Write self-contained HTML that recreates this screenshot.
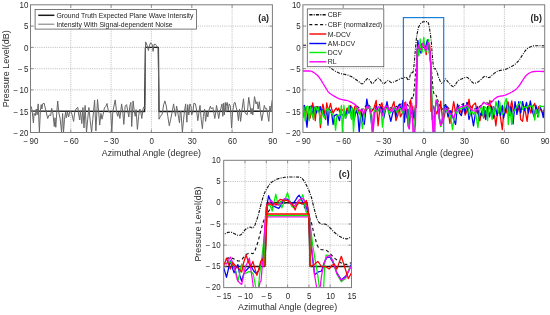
<!DOCTYPE html>
<html><head><meta charset="utf-8"><title>Figure</title>
<style>html,body{margin:0;padding:0;background:#fff}svg{display:block}</style></head>
<body>
<svg width="550" height="315" viewBox="0 0 550 315" font-family="'Liberation Sans', Arial, sans-serif">
<rect width="550" height="315" fill="#fff"/>
<defs>
<clipPath id="clipA"><rect x="30.5" y="4.8" width="241.9" height="127.7"/></clipPath>
<clipPath id="clipB"><rect x="302.9" y="4.8" width="241.8" height="127.7"/></clipPath>
<clipPath id="clipC"><rect x="223.7" y="160.3" width="127.8" height="127.3"/></clipPath>
</defs>
<g id="plotA">
<line x1="70.8" y1="4.8" x2="70.8" y2="132.5" stroke="#b2b2b2" stroke-width="0.8" stroke-dasharray="1.1 1.1"/>
<line x1="111.1" y1="4.8" x2="111.1" y2="132.5" stroke="#b2b2b2" stroke-width="0.8" stroke-dasharray="1.1 1.1"/>
<line x1="151.4" y1="4.8" x2="151.4" y2="132.5" stroke="#b2b2b2" stroke-width="0.8" stroke-dasharray="1.1 1.1"/>
<line x1="191.8" y1="4.8" x2="191.8" y2="132.5" stroke="#b2b2b2" stroke-width="0.8" stroke-dasharray="1.1 1.1"/>
<line x1="232.1" y1="4.8" x2="232.1" y2="132.5" stroke="#b2b2b2" stroke-width="0.8" stroke-dasharray="1.1 1.1"/>
<line x1="30.5" y1="26.1" x2="272.4" y2="26.1" stroke="#b2b2b2" stroke-width="0.8" stroke-dasharray="1.1 1.1"/>
<line x1="30.5" y1="47.4" x2="272.4" y2="47.4" stroke="#b2b2b2" stroke-width="0.8" stroke-dasharray="1.1 1.1"/>
<line x1="30.5" y1="68.7" x2="272.4" y2="68.7" stroke="#b2b2b2" stroke-width="0.8" stroke-dasharray="1.1 1.1"/>
<line x1="30.5" y1="89.9" x2="272.4" y2="89.9" stroke="#b2b2b2" stroke-width="0.8" stroke-dasharray="1.1 1.1"/>
<line x1="30.5" y1="111.2" x2="272.4" y2="111.2" stroke="#b2b2b2" stroke-width="0.8" stroke-dasharray="1.1 1.1"/>
<g clip-path="url(#clipA)">
<polyline points="30.5,111.2 144.6,111.5 145.4,47.4 158.4,47.4 159.0,111.5 272.4,111.2" fill="none" stroke="#1a1a1a" stroke-width="1.3" stroke-linejoin="round" />
<polyline points="31.2,106.4 32.1,110.5 33.4,122.9 34.1,113.4 35.3,115.6 36.3,109.0 37.1,114.9 38.2,103.9 39.4,132.4 40.4,110.5 41.2,104.6 41.9,109.0 42.6,103.9 44.1,103.2 45.5,109.0 47.7,118.5 49.2,114.9 50.7,115.6 51.7,108.3 52.9,113.4 54.3,126.5 55.0,117.8 55.8,127.3 56.8,111.9 57.7,101.0 58.7,111.9 60.2,119.2 61.6,132.4 62.6,113.4 63.5,132.4 64.5,119.2 65.7,111.9 66.3,117.8 67.5,111.9 68.6,117.0 69.7,111.9 70.7,111.2 71.9,114.1 73.6,121.4 74.8,111.9 76.0,109.0 77.8,107.3 78.6,114.1 79.7,120.0 80.4,110.5 81.8,123.6 82.9,107.5 84.0,128.0 85.1,105.4 86.5,132.4 87.7,119.2 88.9,107.5 90.2,120.7 91.6,132.4 92.8,119.2 94.6,100.2 95.9,130.9 97.5,99.5 98.7,111.9 99.7,125.1 100.9,113.4 102.0,119.2 103.0,114.9 104.5,107.5 105.7,106.8 107.0,103.5 108.5,111.9 109.9,111.9 110.8,113.4 111.8,132.4 112.8,111.9 115.2,99.9 116.6,111.9 117.7,116.3 118.7,111.9 119.9,118.5 121.6,103.9 122.8,111.9 123.8,124.4 125.2,106.1 126.6,104.6 127.9,111.9 128.8,117.0 129.8,106.1 130.9,102.4 131.7,126.5 133.1,100.9 134.2,110.4 135.2,116.3 136.1,109.7 137.4,129.4 138.6,116.3 139.8,109.0 140.8,111.9 141.8,118.5 143.0,109.0 144.0,106.8 144.9,109.0 145.3,90.0 145.5,47.1 145.7,41.9 147.0,45.2 148.4,50.5 149.6,45.2 150.6,42.9 152.2,44.3 153.1,51.4 154.1,44.3 155.5,44.3 156.5,45.7 157.9,47.6 158.2,49.0 158.7,90.0 159.0,119.2 160.5,116.3 162.2,114.1 163.7,104.6 164.9,100.9 166.3,106.1 167.8,116.3 169.3,125.8 170.7,119.2 172.2,111.9 173.6,103.9 174.8,111.9 175.5,116.3 176.6,106.1 177.7,111.9 178.7,118.5 179.5,122.8 180.2,111.9 180.9,111.2 182.4,132.3 183.6,119.2 184.4,111.9 185.6,103.9 186.9,122.2 187.7,104.6 188.8,114.9 189.9,103.9 191.0,106.1 191.7,114.9 192.9,111.9 193.9,103.2 195.4,103.9 196.4,109.0 197.8,120.7 199.0,111.9 200.0,105.4 201.2,119.2 202.4,128.7 203.4,116.3 204.6,109.0 205.6,121.4 206.8,111.9 207.8,117.0 208.9,110.5 210.4,106.1 211.4,109.0 212.9,107.5 213.9,113.4 214.8,118.5 215.8,111.9 216.5,105.4 217.7,111.9 218.7,118.5 219.8,111.9 220.9,108.3 222.0,103.9 222.8,116.3 223.6,103.2 224.3,114.9 225.3,102.4 225.9,111.9 226.0,106.1 227.2,102.4 228.2,110.5 229.2,103.9 230.4,106.1 231.6,128.0 232.6,111.9 234.0,103.2 235.1,102.4 236.2,107.5 237.4,111.9 238.4,120.7 239.5,109.0 240.6,121.4 242.1,109.0 243.5,98.8 244.7,111.9 246.2,114.1 247.2,114.9 248.7,97.3 250.1,106.1 251.1,114.1 252.0,108.3 252.8,114.9 254.5,96.6 256.0,103.9 257.0,101.7 258.2,109.0 259.3,101.7 260.4,111.9 261.8,120.7 263.3,111.9 264.3,105.4 265.5,109.0 266.6,108.3 267.7,114.9 268.8,121.4 269.9,106.1 270.9,111.9 272.1,100.2" fill="none" stroke="#666666" stroke-width="1.0" stroke-linejoin="round" />
</g>
<rect x="30.5" y="4.8" width="241.9" height="127.7" fill="none" stroke="#7c7c7c" stroke-width="1"/>
<text transform="translate(30.9 143.7) scale(0.95 1)" text-anchor="middle" font-size="8.4" fill="#2a2a2a">−<tspan dx="1.4">90</tspan></text>
<path d="M70.8 132.5v-3M70.8 4.8v3" stroke="#7c7c7c" stroke-width="0.8"/>
<text transform="translate(71.2 143.7) scale(0.95 1)" text-anchor="middle" font-size="8.4" fill="#2a2a2a">−<tspan dx="1.4">60</tspan></text>
<path d="M111.1 132.5v-3M111.1 4.8v3" stroke="#7c7c7c" stroke-width="0.8"/>
<text transform="translate(111.5 143.7) scale(0.95 1)" text-anchor="middle" font-size="8.4" fill="#2a2a2a">−<tspan dx="1.4">30</tspan></text>
<path d="M151.4 132.5v-3M151.4 4.8v3" stroke="#7c7c7c" stroke-width="0.8"/>
<text transform="translate(151.8 143.7) scale(0.95 1)" text-anchor="middle" font-size="8.4" fill="#2a2a2a">0</text>
<path d="M191.8 132.5v-3M191.8 4.8v3" stroke="#7c7c7c" stroke-width="0.8"/>
<text transform="translate(192.2 143.7) scale(0.95 1)" text-anchor="middle" font-size="8.4" fill="#2a2a2a">30</text>
<path d="M232.1 132.5v-3M232.1 4.8v3" stroke="#7c7c7c" stroke-width="0.8"/>
<text transform="translate(232.5 143.7) scale(0.95 1)" text-anchor="middle" font-size="8.4" fill="#2a2a2a">60</text>
<text transform="translate(272.8 143.7) scale(0.95 1)" text-anchor="middle" font-size="8.4" fill="#2a2a2a">90</text>
<text transform="translate(28.4 8.1) scale(0.95 1)" text-anchor="end" font-size="8.4" fill="#2a2a2a">10</text>
<path d="M30.5 26.1h3M272.4 26.1h-3" stroke="#7c7c7c" stroke-width="0.8"/>
<text transform="translate(28.4 29.4) scale(0.95 1)" text-anchor="end" font-size="8.4" fill="#2a2a2a">5</text>
<path d="M30.5 47.4h3M272.4 47.4h-3" stroke="#7c7c7c" stroke-width="0.8"/>
<text transform="translate(28.4 50.7) scale(0.95 1)" text-anchor="end" font-size="8.4" fill="#2a2a2a">0</text>
<path d="M30.5 68.7h3M272.4 68.7h-3" stroke="#7c7c7c" stroke-width="0.8"/>
<text transform="translate(28.4 72.0) scale(0.95 1)" text-anchor="end" font-size="8.4" fill="#2a2a2a">−<tspan dx="1.4">5</tspan></text>
<path d="M30.5 89.9h3M272.4 89.9h-3" stroke="#7c7c7c" stroke-width="0.8"/>
<text transform="translate(28.4 93.2) scale(0.95 1)" text-anchor="end" font-size="8.4" fill="#2a2a2a">−<tspan dx="1.4">10</tspan></text>
<path d="M30.5 111.2h3M272.4 111.2h-3" stroke="#7c7c7c" stroke-width="0.8"/>
<text transform="translate(28.4 114.5) scale(0.95 1)" text-anchor="end" font-size="8.4" fill="#2a2a2a">−<tspan dx="1.4">15</tspan></text>
<text transform="translate(28.4 135.8) scale(0.95 1)" text-anchor="end" font-size="8.4" fill="#2a2a2a">−<tspan dx="1.4">20</tspan></text>
<text x="151.4" y="155.7" text-anchor="middle" font-size="8.8" textLength="99.2" lengthAdjust="spacingAndGlyphs" fill="#2a2a2a">Azimuthal Angle (degree)</text>
<text transform="translate(8.8 68.7) rotate(-90)" text-anchor="middle" font-size="8.9" textLength="77" lengthAdjust="spacingAndGlyphs" fill="#2a2a2a">Pressure Level(dB)</text>
<rect x="35.1" y="9.5" width="161.3" height="19.6" fill="#fff" stroke="#5a5a5a" stroke-width="0.8"/>
<line x1="38.2" y1="15.3" x2="54.4" y2="15.3" stroke="#1a1a1a" stroke-width="1.5"/>
<line x1="38.2" y1="24.2" x2="54.4" y2="24.2" stroke="#6f6f6f" stroke-width="0.95"/>
<text x="56.4" y="17.8" font-size="6.87" fill="#222">Ground Truth Expected Plane Wave Intensity</text>
<text x="56.4" y="26.6" font-size="6.87" fill="#222">Intensity With Signal-dependent Noise</text>
<text x="258.2" y="21.3" font-size="8.85" font-weight="bold" fill="#222">(a)</text>
</g>
<g id="plotB">
<line x1="343.2" y1="4.8" x2="343.2" y2="132.5" stroke="#b2b2b2" stroke-width="0.8" stroke-dasharray="1.1 1.1"/>
<line x1="383.5" y1="4.8" x2="383.5" y2="132.5" stroke="#b2b2b2" stroke-width="0.8" stroke-dasharray="1.1 1.1"/>
<line x1="423.8" y1="4.8" x2="423.8" y2="132.5" stroke="#b2b2b2" stroke-width="0.8" stroke-dasharray="1.1 1.1"/>
<line x1="464.1" y1="4.8" x2="464.1" y2="132.5" stroke="#b2b2b2" stroke-width="0.8" stroke-dasharray="1.1 1.1"/>
<line x1="504.4" y1="4.8" x2="504.4" y2="132.5" stroke="#b2b2b2" stroke-width="0.8" stroke-dasharray="1.1 1.1"/>
<line x1="302.9" y1="26.1" x2="544.7" y2="26.1" stroke="#b2b2b2" stroke-width="0.8" stroke-dasharray="1.1 1.1"/>
<line x1="302.9" y1="47.4" x2="544.7" y2="47.4" stroke="#b2b2b2" stroke-width="0.8" stroke-dasharray="1.1 1.1"/>
<line x1="302.9" y1="68.7" x2="544.7" y2="68.7" stroke="#b2b2b2" stroke-width="0.8" stroke-dasharray="1.1 1.1"/>
<line x1="302.9" y1="89.9" x2="544.7" y2="89.9" stroke="#b2b2b2" stroke-width="0.8" stroke-dasharray="1.1 1.1"/>
<line x1="302.9" y1="111.2" x2="544.7" y2="111.2" stroke="#b2b2b2" stroke-width="0.8" stroke-dasharray="1.1 1.1"/>
<g clip-path="url(#clipB)">
<polyline points="302.9,45.3 304.2,45.3 306.1,45.3 308.1,45.3 309.6,45.3 310.6,45.4 311.2,45.5 311.7,45.6 312.3,45.9 313.1,46.4 314.0,47.0 314.9,47.6 315.7,48.2 316.4,48.8 317.0,49.3 317.6,49.8 318.3,50.6 319.2,51.6 320.0,52.9 320.9,54.2 321.7,55.5 322.4,56.6 323.1,57.8 323.8,58.9 324.4,60.0 325.0,60.9 325.6,61.8 326.1,62.7 326.7,63.5 327.1,64.3 327.4,65.0 327.8,65.7 328.6,66.5 329.7,67.4 331.1,68.4 332.6,69.4 334.1,70.4 335.5,71.2 336.9,71.9 338.2,72.6 339.4,73.2 340.5,73.5 341.3,73.7 342.2,73.9 343.2,74.1 344.4,74.3 345.8,74.6 347.2,74.9 348.6,75.3 349.9,75.9 351.3,76.6 352.7,77.4 354.1,78.2 355.5,79.2 356.9,80.3 358.3,81.4 359.5,82.3 360.3,82.9 361.0,83.4 361.6,83.7 362.3,83.7 363.0,83.4 363.6,82.8 364.3,82.0 365.0,81.3 365.6,80.6 366.3,79.7 367.0,78.9 367.6,78.6 368.4,78.9 369.1,79.7 369.8,80.6 370.5,81.3 371.0,82.1 371.5,82.9 372.0,83.5 372.6,83.7 373.4,83.1 374.2,82.1 375.0,81.0 375.8,80.1 376.6,79.4 377.3,78.7 378.0,78.3 378.7,78.2 379.4,78.7 380.0,79.5 380.7,80.5 381.4,81.3 381.9,82.1 382.4,82.8 382.9,83.4 383.5,83.7 384.3,83.4 385.2,82.7 386.1,81.9 386.9,81.3 387.4,80.9 387.8,80.6 388.1,80.4 388.6,80.4 389.2,80.8 389.9,81.6 390.6,82.2 391.4,82.6 392.3,82.5 393.2,82.2 394.2,81.7 395.1,81.3 395.8,81.0 396.4,80.7 397.0,80.4 397.7,80.1 398.6,79.6 399.6,79.0 400.5,78.5 401.4,78.2 402.1,78.3 402.7,78.5 403.2,78.8 403.6,78.9 404.1,78.6 404.4,78.1 404.7,77.5 405.0,77.2 405.3,77.0 405.6,77.0 405.9,77.0 406.2,77.2 406.5,77.5 406.8,77.9 407.1,78.4 407.3,78.9 407.6,79.3 407.9,79.7 408.1,80.0 408.4,80.1 408.6,80.1 408.8,79.9 409.0,79.5 409.3,78.9 409.6,78.0 409.8,76.8 410.1,75.6 410.4,74.6 410.6,74.0 410.8,73.6 411.0,73.2 411.2,72.9 411.4,72.6 411.6,72.2 411.8,72.0 412.0,71.8 412.2,72.0 412.4,72.3 412.6,72.6 412.8,72.7 412.9,72.4 413.1,72.0 413.2,71.4 413.3,70.8 413.4,70.2 413.5,69.6 413.6,68.9 413.7,67.8 413.9,66.3 414.1,64.4 414.3,62.3 414.5,60.1 414.7,57.7 414.9,55.1 415.1,52.4 415.3,49.9 415.5,47.5 415.8,45.1 416.0,42.9 416.1,41.0 416.3,39.5 416.4,38.4 416.6,37.4 416.7,36.3 416.9,35.2 417.1,34.0 417.3,32.9 417.5,31.9 417.7,30.8 417.9,29.8 418.1,28.9 418.3,28.0 418.6,27.3 418.8,26.6 419.1,26.1 419.4,25.5 419.6,24.9 419.9,24.5 420.2,24.0 420.6,23.6 421.0,23.2 421.4,22.8 421.8,22.5 422.2,22.3 422.5,22.0 422.9,21.9 423.3,21.7 423.8,21.7 424.6,21.6 425.6,21.5 426.5,21.6 427.3,21.7 427.7,21.8 428.0,22.1 428.1,22.5 428.3,22.9 428.5,23.6 428.7,24.3 428.9,25.1 429.1,26.1 429.3,27.2 429.5,28.4 429.7,29.7 429.9,30.9 430.1,31.9 430.2,32.8 430.4,33.8 430.5,35.0 430.7,36.6 430.9,38.4 431.1,40.3 431.3,42.3 431.5,44.1 431.6,46.1 431.8,48.0 431.9,49.9 432.1,51.9 432.2,53.8 432.4,55.8 432.5,57.6 432.7,59.3 432.8,61.1 433.0,62.6 433.1,64.0 433.3,65.0 433.4,65.9 433.6,66.5 433.7,67.2 433.9,67.7 434.1,68.2 434.3,68.6 434.5,68.8 434.7,68.9 434.9,68.8 435.2,68.6 435.4,68.7 435.6,68.8 435.7,69.0 435.9,69.3 436.2,69.7 436.4,70.2 436.6,70.8 436.8,71.5 437.1,72.3 437.4,73.2 437.7,74.3 438.0,75.3 438.3,76.3 438.6,77.2 438.9,78.0 439.2,78.8 439.5,79.5 439.8,80.2 440.1,80.9 440.4,81.5 440.7,82.1 441.0,82.5 441.2,82.9 441.5,83.1 441.7,83.3 442.0,83.5 442.2,83.5 442.5,83.5 442.7,83.3 443.0,83.0 443.3,82.5 443.6,82.0 444.0,81.4 444.2,80.7 444.5,79.9 444.9,79.1 445.3,78.9 445.8,79.1 446.3,79.7 447.0,80.6 447.8,81.6 449.0,82.9 450.5,84.7 452.0,86.1 453.4,86.7 454.5,86.0 455.6,84.4 456.6,82.6 457.7,81.2 458.7,80.4 459.6,79.8 460.6,79.3 461.7,78.9 462.9,78.3 464.2,77.8 465.4,77.4 466.5,77.2 467.4,77.5 468.0,77.9 468.7,78.6 469.5,79.3 470.4,80.2 471.4,81.4 472.5,82.5 473.5,83.1 474.5,83.3 475.5,83.1 476.4,82.7 477.4,82.3 478.4,81.7 479.4,80.9 480.3,80.1 481.3,79.3 482.2,78.4 483.0,77.5 483.9,76.8 484.8,76.3 485.8,76.4 487.0,77.0 488.1,77.5 489.2,77.6 490.2,77.1 491.1,76.2 492.1,75.2 493.1,74.3 494.2,73.4 495.4,72.5 496.6,71.7 498.0,71.0 499.4,70.6 501.0,70.3 502.5,70.1 504.0,69.8 505.3,69.4 506.4,68.9 507.6,68.4 508.8,67.8 510.3,67.1 511.8,66.3 513.4,65.4 514.7,64.5 515.9,63.6 516.9,62.7 517.8,61.7 518.8,60.6 519.8,59.2 520.7,57.7 521.7,56.1 522.7,54.6 523.6,53.2 524.6,51.8 525.6,50.4 526.6,49.3 527.6,48.5 528.6,47.8 529.6,47.2 530.6,46.8 531.4,46.4 532.2,46.1 533.1,45.9 534.5,45.8 536.8,45.7 539.8,45.7 542.7,45.8 544.7,45.8" fill="none" stroke="#111" stroke-width="1.1" stroke-linejoin="round" stroke-dasharray="3.2 1.2 1 1.2"/>
<polyline points="356.9,106.1 358.3,107.1 359.5,108.0 360.3,108.6 361.0,109.1 361.6,109.4 362.3,109.4 363.0,109.1 363.6,108.5 364.3,107.7 365.0,107.0 365.6,106.3 366.3,105.4 367.0,104.6 367.6,104.3 368.4,104.6 369.1,105.4 369.8,106.3 370.5,107.0 371.0,107.8 371.5,108.6 372.0,109.2 372.6,109.4 373.4,108.9 374.2,107.8 375.0,106.7 375.8,105.8 376.6,105.1 377.3,104.4 378.0,104.0 378.7,103.9 379.4,104.4 380.0,105.2 380.7,106.2 381.4,107.0 381.9,107.8 382.4,108.6 382.9,109.1 383.5,109.4 384.3,109.1 385.2,108.4 386.1,107.6 386.9,107.0 387.4,106.6 387.8,106.3 388.1,106.1 388.6,106.2 389.2,106.6 389.9,107.3 390.6,108.0 391.4,108.3 392.3,108.2 393.2,107.9 394.2,107.4 395.1,107.0 395.8,106.7 396.4,106.4 397.0,106.1 397.7,105.8 398.6,105.3 399.6,104.7 400.5,104.2 401.4,103.9 402.1,104.0 402.7,104.2 403.2,104.5 403.6,104.6 404.1,104.3 404.4,103.8 404.7,103.2 405.0,102.9 405.3,102.7 405.6,102.7 405.9,102.7 406.2,102.9 406.5,103.2 406.8,103.6 407.1,104.1 407.3,104.6 407.6,105.0 407.9,105.4 408.1,105.7 408.4,105.9 408.6,105.8 408.8,105.6 409.0,105.2 409.3,104.6 409.6,103.7 409.8,102.5 410.1,101.3 410.4,100.3 410.6,99.7 410.8,99.3 411.0,98.9 411.2,98.6 411.4,98.3 411.6,97.9 411.8,97.7 412.0,97.6 412.2,97.7 412.4,98.0 412.6,98.3 412.8,98.4 412.9,98.1 413.1,97.7 413.2,97.1 413.3,96.5 413.4,95.9 413.5,95.4 413.6,94.6 413.7,93.5 413.9,92.0 414.1,90.1 414.3,88.1 414.5,85.8 414.7,83.4 414.9,80.8 415.1,78.2 415.3,75.6 415.5,73.2 415.8,70.8 416.0,68.6 416.1,66.7 416.3,65.2 416.4,64.1 416.6,63.1 416.7,62.0 416.9,60.9 417.1,59.7 417.3,58.6 417.5,57.6 417.7,56.6 417.9,55.6 418.1,54.6 418.3,53.8 418.6,53.0 418.8,52.4 419.1,51.8 419.4,51.2 419.6,50.7 419.9,50.2 420.2,49.7 420.6,49.3 421.0,48.9 421.4,48.5 421.8,48.2 422.2,48.0 422.5,47.7 422.9,47.6 423.3,47.5 423.8,47.4 424.6,47.3 425.6,47.2 426.5,47.3 427.3,47.4 427.7,47.6 428.0,47.8 428.1,48.2 428.3,48.6 428.5,49.3 428.7,50.0 428.9,50.8 429.1,51.8 429.3,52.9 429.5,54.1 429.7,55.4 429.9,56.6 430.1,57.6 430.2,58.5 430.4,59.5 430.5,60.7 430.7,62.3 430.9,64.1 431.1,66.1 431.3,68.0 431.5,69.9 431.6,71.8 431.8,73.7 431.9,75.6 432.1,77.6 432.2,79.5 432.4,81.5 432.5,83.3 432.7,85.1 432.8,86.8 433.0,88.3 433.1,89.7 433.3,90.7 433.4,91.6 433.6,92.3 433.7,92.9 433.9,93.4 434.1,93.9 434.3,94.3 434.5,94.5 434.7,94.6 434.9,94.5 435.2,94.4 435.4,94.4 435.6,94.5 435.7,94.7 435.9,95.0 436.2,95.4 436.4,95.9 436.6,96.5 436.8,97.2 437.1,98.0 437.4,98.9 437.7,100.0 438.0,101.0 438.3,102.0 438.6,102.9 438.9,103.7 439.2,104.5 439.5,105.2 439.8,105.9 440.1,106.6 440.4,107.2 440.7,107.8 441.0,108.2 441.2,108.6 441.5,108.8 441.7,109.0 442.0,109.2 442.2,109.2 442.5,109.2 442.7,109.0 443.0,108.7 443.3,108.2 443.6,107.7 444.0,107.1 444.2,106.4 444.5,105.6 444.9,104.9 445.3,104.6 445.8,104.8 446.3,105.5 447.0,106.3 447.8,107.3 449.0,108.7 450.5,110.4 452.0,111.8 453.4,112.4 454.5,111.7 455.6,110.1 456.6,108.3 457.7,106.9 458.7,106.1 459.6,105.5 460.6,105.0 461.7,104.6 462.9,104.0 464.2,103.5 465.4,103.1 466.5,103.0 467.4,103.2 468.0,103.6 468.7,104.3 469.5,105.0 470.4,105.9 471.4,107.1 472.5,108.2 473.5,108.8 474.5,109.0 475.5,108.8 476.4,108.5 477.4,108.0 478.4,107.4 479.4,106.6 480.3,105.8 481.3,105.0 482.2,104.2 483.0,103.2 483.9,102.5 484.8,102.0 485.8,102.1 487.0,102.7 488.1,103.2 489.2,103.3 490.2,102.8 491.1,101.9 492.1,101.0" fill="none" stroke="#111" stroke-width="1.1" stroke-linejoin="round" stroke-dasharray="3 2"/>
<polyline points="302.9,118.2 303.8,108.0 305.1,110.5 306.4,106.7 307.6,119.5 308.9,113.1 310.2,118.2 311.5,109.3 312.7,102.9 314.0,110.5 315.3,120.7 316.5,106.7 317.8,110.5 319.1,106.7 320.4,127.7 321.6,110.5 322.9,104.2 324.2,110.5 325.5,119.5 326.7,102.9 328.0,109.3 329.3,108.0 330.5,103.5 331.8,109.3 333.1,113.1 334.4,110.5 336.3,108.0 337.5,110.5 338.8,108.0 340.1,113.1 341.4,109.3 343.3,110.5 344.5,115.6 345.8,113.1 347.1,108.0 348.4,110.5 350.3,105.5 352.2,108.0 353.5,113.1 354.7,106.7 356.0,105.5 357.3,113.1 358.5,110.5 359.8,114.4 361.1,110.5 362.4,118.2 363.6,113.1 364.9,109.3 366.2,110.5 368.5,106.7 371.1,111.8 373.6,109.3 376.2,100.4 378.1,125.8 380.0,106.7 381.9,102.9 383.8,113.1 386.4,105.5 388.3,108.0 390.2,110.5 392.1,106.7 394.0,101.6 395.9,120.7 397.8,115.6 399.1,106.7 400.4,116.9 402.3,113.1 403.6,110.7 404.5,103.0 405.7,113.9 406.5,107.5 407.5,111.3 408.5,113.9 409.3,117.1 409.9,107.5 410.7,99.8 411.5,107.5 412.1,111.3 412.8,106.2 413.5,113.9 414.1,120.3 414.7,113.9 415.3,106.2 415.9,103.7 416.3,107.5 416.7,102.4 416.9,81.4 417.3,48.6 418.3,48.5 418.9,50.0 419.6,48.0 420.2,49.5 420.9,45.9 421.5,43.9 422.0,44.4 422.6,45.9 423.3,44.9 423.9,45.4 424.6,47.0 425.2,48.5 425.9,52.6 426.2,54.6 426.7,50.0 427.3,47.0 427.9,47.5 428.6,48.5 429.2,47.0 429.7,44.9 430.0,51.0 430.4,57.2 430.7,68.7 430.9,111.2 431.9,110.1 433.3,106.2 434.5,111.3 435.7,111.3 436.9,113.9 437.7,110.1 438.5,108.8 439.3,113.9 440.7,101.1 441.7,111.3 442.9,123.5 444.0,117.7 445.5,110.5 447.4,106.7 449.9,123.3 451.8,113.1 453.7,101.6 455.6,113.1 457.5,106.7 459.5,109.3 461.4,113.1 463.3,106.7 465.2,115.0 467.1,110.5 469.0,99.1 470.9,113.1 472.8,105.5 475.4,102.9 477.3,113.1 479.2,110.5 480.0,120.7 481.9,110.5 483.8,118.2 485.7,110.5 487.6,113.1 489.9,100.4 491.5,113.1 493.4,106.7 495.9,125.8 497.8,109.3 499.7,111.8 502.3,129.6 504.2,106.7 506.1,113.1 508.0,101.6 509.9,110.5 511.8,101.0 513.7,113.1 515.6,105.5 517.5,111.8 519.5,106.7 520.7,119.5 522.6,121.4 524.5,106.7 527.1,121.4 529.0,105.5 530.9,113.1 532.8,106.7 534.7,103.5 536.6,113.1 538.5,106.7 541.1,110.5 543.0,113.1 544.7,109.3" fill="none" stroke="#ff0000" stroke-width="1.3" stroke-linejoin="round" />
<polyline points="302.9,106.7 304.5,105.5 305.7,116.9 307.0,127.1 308.3,113.1 309.5,106.7 311.5,106.1 312.7,116.9 314.0,108.0 315.3,106.7 316.5,113.1 317.8,106.7 319.1,111.8 320.4,106.7 321.6,113.1 322.9,109.3 324.2,116.9 325.5,114.4 326.7,109.3 328.0,125.2 329.3,109.3 330.5,110.5 331.8,114.4 333.1,124.5 334.4,115.6 336.9,114.4 338.2,116.9 339.5,120.7 340.7,113.1 343.3,115.6 344.5,113.1 345.8,118.2 347.1,110.5 349.0,113.1 350.3,106.7 351.5,118.2 352.8,110.5 354.1,120.7 355.4,113.1 356.6,110.5 357.9,115.6 359.2,132.2 360.5,115.6 361.7,113.1 363.0,122.0 364.3,124.5 365.5,113.1 366.8,99.1 368.1,106.7 369.8,108.0 372.4,132.2 374.3,113.1 376.2,106.7 378.7,110.5 381.3,106.7 383.8,118.2 387.0,101.6 388.9,113.1 390.8,121.4 392.7,113.1 394.6,108.0 395.9,116.9 397.8,106.7 399.7,104.2 401.6,110.5 402.9,100.4 403.6,112.6 404.5,122.2 405.3,111.3 405.8,105.6 406.5,113.9 406.9,117.7 407.5,112.6 408.1,109.4 408.7,120.3 409.3,126.0 409.9,119.0 410.5,115.8 411.5,112.6 412.3,111.3 413.1,115.8 413.9,118.4 414.7,115.2 415.5,107.5 416.1,101.1 416.5,81.4 417.2,51.6 417.8,40.3 418.5,45.9 419.3,50.5 420.2,52.1 421.0,53.1 421.7,50.0 422.3,44.9 423.1,43.4 423.8,43.9 424.4,45.4 425.1,48.0 425.7,47.5 426.3,44.4 427.0,41.3 427.5,39.8 427.9,42.4 428.6,47.0 429.2,50.5 429.7,51.6 430.7,64.4 431.2,89.9 432.3,119.7 433.3,117.1 434.5,115.8 435.3,107.5 436.1,102.4 437.1,101.8 438.1,107.5 439.3,117.7 440.7,124.8 442.1,120.9 443.3,113.9 444.0,108.8 444.8,106.7 446.1,105.5 448.0,116.9 449.9,110.5 451.8,114.4 453.7,119.5 455.6,124.5 457.5,104.2 459.5,113.1 461.4,115.6 463.3,104.2 465.2,113.1 467.1,102.3 469.0,119.5 470.9,110.5 473.5,125.8 475.4,113.1 477.3,106.7 479.2,120.7 480.0,113.1 481.9,115.6 483.8,106.7 485.7,119.5 487.6,106.7 489.5,116.9 491.5,106.1 493.4,118.2 495.3,106.7 497.2,115.6 498.5,101.0 500.4,115.6 502.3,105.5 503.5,118.2 505.5,110.5 507.4,102.9 509.3,115.6 511.2,106.7 513.1,123.9 515.0,101.6 516.9,114.4 518.8,101.6 520.7,113.1 522.6,101.6 524.5,110.5 526.5,102.3 528.4,113.1 530.3,101.0 532.2,110.5 534.1,116.9 536.0,105.5 537.9,116.9 539.8,106.7 541.7,110.5 543.3,117.5 544.7,105.5" fill="none" stroke="#0000ff" stroke-width="1.3" stroke-linejoin="round" />
<polyline points="302.9,113.1 303.8,106.7 305.1,120.7 306.4,106.7 307.9,106.1 309.2,120.7 310.8,106.7 312.1,113.1 313.4,119.5 314.6,108.0 315.9,106.7 317.2,110.5 318.5,107.4 319.7,116.9 321.0,124.5 322.3,110.5 323.5,115.6 324.8,118.2 326.1,110.5 327.4,108.0 329.3,110.5 331.2,113.1 333.1,115.0 334.4,119.5 335.6,130.3 336.9,115.6 338.2,115.0 340.1,115.6 341.4,105.5 342.4,132.2 343.3,119.5 343.9,105.5 345.2,118.2 346.5,115.6 347.7,113.1 349.0,105.5 350.3,113.1 351.5,119.5 352.4,108.0 353.5,132.2 354.7,111.8 356.0,106.7 357.3,110.5 358.5,113.1 359.8,111.8 361.1,119.5 362.4,128.4 363.6,119.5 364.9,110.5 366.8,108.0 369.4,108.0 369.8,106.7 371.1,116.9 372.4,133.5 373.6,113.1 375.5,109.3 377.5,111.8 379.4,108.0 381.3,113.1 382.5,127.1 383.8,113.1 385.7,108.0 387.6,109.3 389.5,114.4 391.5,109.3 393.4,110.5 395.3,106.7 397.2,113.1 399.1,108.0 401.0,109.3 402.9,113.1 403.6,107.5 404.5,108.1 405.5,106.2 406.5,110.1 407.5,116.5 408.1,126.0 408.7,117.7 409.3,108.8 409.9,115.2 410.5,118.4 411.5,116.5 412.3,116.7 412.9,118.4 413.5,128.0 413.9,135.6 414.5,135.6 414.9,120.3 415.3,111.3 415.7,101.1 416.4,81.4 417.2,51.6 418.1,49.0 418.9,55.6 419.6,45.9 420.1,38.8 420.6,45.9 421.0,50.0 421.5,45.9 422.0,52.6 422.8,45.9 423.8,37.3 424.4,44.9 425.1,51.0 425.7,52.1 426.3,51.0 427.3,48.0 427.9,43.9 428.6,39.3 429.1,45.9 429.6,56.1 430.0,57.7 430.8,64.4 431.7,89.9 433.3,120.3 433.9,135.6 435.1,135.6 435.5,107.5 435.9,99.8 437.1,100.5 438.1,106.2 439.3,119.0 440.7,126.7 442.1,122.8 443.3,112.6 444.0,111.3 444.8,109.3 446.7,110.5 448.6,113.1 450.5,115.6 452.5,129.6 454.4,115.6 456.3,113.1 458.2,109.3 460.7,108.6 463.3,108.0 465.8,106.7 467.7,105.5 469.6,115.6 471.5,110.5 473.5,114.4 475.4,111.8 477.9,127.7 479.6,111.8 480.0,109.3 481.9,106.7 483.2,116.9 484.5,106.7 486.4,108.0 487.6,120.7 488.9,106.7 490.2,108.0 492.1,119.5 493.4,108.0 494.6,114.4 495.9,101.6 497.2,106.7 498.5,113.1 499.7,101.6 501.0,111.8 502.3,114.4 503.5,113.1 504.8,102.9 506.3,98.5 507.4,106.7 508.3,124.5 509.3,108.0 510.5,114.4 511.8,124.5 513.1,113.1 515.0,109.3 516.9,106.7 518.8,104.2 520.7,101.6 522.6,109.3 524.5,106.7 526.5,108.0 528.4,105.5 530.3,106.7 532.2,105.5 533.5,110.5 534.7,120.1 536.0,109.3 537.3,113.1 538.5,116.9 539.8,105.5 541.7,106.7 544.7,106.1" fill="none" stroke="#00f000" stroke-width="1.3" stroke-linejoin="round" />
<polyline points="302.9,71.0 304.2,71.0 306.1,71.0 308.1,71.0 309.6,71.0 310.6,71.1 311.2,71.2 311.7,71.3 312.3,71.6 313.1,72.1 314.0,72.7 314.9,73.3 315.7,73.9 316.4,74.5 317.0,75.0 317.6,75.5 318.3,76.3 319.2,77.4 320.0,78.6 320.9,79.9 321.7,81.2 322.4,82.3 323.1,83.5 323.8,84.6 324.4,85.7 325.0,86.7 325.6,87.6 326.1,88.4 326.7,89.3 327.1,90.0 327.4,90.7 327.8,91.4 328.6,92.2 329.7,93.2 331.1,94.2 332.6,95.2 334.1,96.1 335.5,96.9 336.9,97.7 338.2,98.3 339.4,98.9 340.5,99.2 341.3,99.4 342.2,99.6 343.2,99.8 344.4,100.0 345.8,100.3 347.2,100.6 348.6,101.0 349.9,101.6 351.3,102.3 352.7,103.1 354.1,103.9 355.5,104.9 357.3,108.0 359.8,110.5 362.4,109.9 363.6,114.4 364.9,110.5 366.8,106.7 367.9,106.7 369.8,109.3 371.7,115.6 373.0,132.2 374.9,113.1 376.8,108.0 378.7,106.7 380.6,110.5 382.5,115.6 383.8,110.5 385.1,106.7 387.0,106.1 388.9,109.3 391.5,111.8 393.4,108.0 395.3,106.7 397.2,110.5 399.1,106.7 401.0,105.5 402.9,110.5 403.6,108.1 404.5,108.8 405.7,101.8 406.5,107.5 407.3,116.5 407.9,124.8 408.5,127.3 409.3,129.2 409.9,120.3 410.5,111.3 411.1,107.5 411.7,103.0 412.3,116.5 412.7,125.4 413.1,135.6 414.5,135.6 415.1,126.7 415.4,126.0 415.7,113.9 416.1,101.1 416.3,89.9 417.0,51.6 418.0,47.5 418.6,44.9 419.3,47.5 419.9,49.5 420.6,49.0 421.2,49.5 421.8,47.0 422.5,43.9 423.0,43.1 423.4,44.4 424.1,45.9 424.7,48.5 425.4,49.5 426.0,50.5 426.7,48.0 427.3,44.9 427.9,43.4 428.6,42.9 429.1,44.9 429.6,49.0 430.0,52.6 430.4,57.2 430.7,64.4 431.3,89.9 432.3,120.3 433.1,135.6 433.9,135.6 434.5,120.3 435.3,107.5 436.1,101.8 437.1,100.1 438.1,106.2 439.3,118.4 440.7,125.4 442.1,122.2 443.3,113.9 444.0,110.7 445.5,108.0 447.4,109.3 449.3,113.1 451.2,114.4 453.7,118.2 455.6,111.8 457.5,108.0 459.5,107.4 462.0,106.7 464.5,106.1 467.1,104.8 469.0,106.7 470.9,109.3 472.8,110.5 474.7,111.2 476.6,109.9 478.5,108.6 480.5,106.7 481.9,104.8 483.8,102.3 486.4,104.2 488.9,104.8 491.5,102.3 494.2,99.1 495.4,98.2 496.6,97.4 498.0,96.7 499.4,96.3 501.0,96.0 502.5,95.8 504.0,95.5 505.3,95.1 506.4,94.6 507.6,94.1 508.8,93.5 510.3,92.8 511.8,92.0 513.4,91.1 514.7,90.2 515.9,89.3 516.9,88.4 517.8,87.4 518.8,86.3 519.8,84.9 520.7,83.4 521.7,81.8 522.7,80.3 523.6,78.9 524.6,77.5 525.6,76.1 526.6,75.0 527.6,74.2 528.6,73.5 529.6,72.9 530.6,72.5 531.4,72.1 532.2,71.8 533.1,71.6 534.5,71.5 536.8,71.4 539.8,71.4 542.7,71.5 544.7,71.5" fill="none" stroke="#ff00ff" stroke-width="1.3" stroke-linejoin="round" />
</g>
<rect x="403.4" y="17.6" width="40.3" height="114.9" fill="none" stroke="#1c7fd6" stroke-width="1.2"/>
<rect x="302.9" y="4.8" width="241.8" height="127.7" fill="none" stroke="#7c7c7c" stroke-width="1"/>
<text transform="translate(303.3 143.7) scale(0.95 1)" text-anchor="middle" font-size="8.4" fill="#2a2a2a">−<tspan dx="1.4">90</tspan></text>
<path d="M343.2 132.5v-3M343.2 4.8v3" stroke="#7c7c7c" stroke-width="0.8"/>
<text transform="translate(343.6 143.7) scale(0.95 1)" text-anchor="middle" font-size="8.4" fill="#2a2a2a">−<tspan dx="1.4">60</tspan></text>
<path d="M383.5 132.5v-3M383.5 4.8v3" stroke="#7c7c7c" stroke-width="0.8"/>
<text transform="translate(383.9 143.7) scale(0.95 1)" text-anchor="middle" font-size="8.4" fill="#2a2a2a">−<tspan dx="1.4">30</tspan></text>
<path d="M423.8 132.5v-3M423.8 4.8v3" stroke="#7c7c7c" stroke-width="0.8"/>
<text transform="translate(424.2 143.7) scale(0.95 1)" text-anchor="middle" font-size="8.4" fill="#2a2a2a">0</text>
<path d="M464.1 132.5v-3M464.1 4.8v3" stroke="#7c7c7c" stroke-width="0.8"/>
<text transform="translate(464.5 143.7) scale(0.95 1)" text-anchor="middle" font-size="8.4" fill="#2a2a2a">30</text>
<path d="M504.4 132.5v-3M504.4 4.8v3" stroke="#7c7c7c" stroke-width="0.8"/>
<text transform="translate(504.8 143.7) scale(0.95 1)" text-anchor="middle" font-size="8.4" fill="#2a2a2a">60</text>
<text transform="translate(545.1 143.7) scale(0.95 1)" text-anchor="middle" font-size="8.4" fill="#2a2a2a">90</text>
<text transform="translate(300.8 8.1) scale(0.95 1)" text-anchor="end" font-size="8.4" fill="#2a2a2a">10</text>
<path d="M302.9 26.1h3M544.7 26.1h-3" stroke="#7c7c7c" stroke-width="0.8"/>
<text transform="translate(300.8 29.4) scale(0.95 1)" text-anchor="end" font-size="8.4" fill="#2a2a2a">5</text>
<path d="M302.9 47.4h3M544.7 47.4h-3" stroke="#7c7c7c" stroke-width="0.8"/>
<text transform="translate(300.8 50.7) scale(0.95 1)" text-anchor="end" font-size="8.4" fill="#2a2a2a">0</text>
<path d="M302.9 68.7h3M544.7 68.7h-3" stroke="#7c7c7c" stroke-width="0.8"/>
<text transform="translate(300.8 72.0) scale(0.95 1)" text-anchor="end" font-size="8.4" fill="#2a2a2a">−<tspan dx="1.4">5</tspan></text>
<path d="M302.9 89.9h3M544.7 89.9h-3" stroke="#7c7c7c" stroke-width="0.8"/>
<text transform="translate(300.8 93.2) scale(0.95 1)" text-anchor="end" font-size="8.4" fill="#2a2a2a">−<tspan dx="1.4">10</tspan></text>
<path d="M302.9 111.2h3M544.7 111.2h-3" stroke="#7c7c7c" stroke-width="0.8"/>
<text transform="translate(300.8 114.5) scale(0.95 1)" text-anchor="end" font-size="8.4" fill="#2a2a2a">−<tspan dx="1.4">15</tspan></text>
<text transform="translate(300.8 135.8) scale(0.95 1)" text-anchor="end" font-size="8.4" fill="#2a2a2a">−<tspan dx="1.4">20</tspan></text>
<text x="423.8" y="155.7" text-anchor="middle" font-size="8.8" textLength="99.2" lengthAdjust="spacingAndGlyphs" fill="#2a2a2a">Azimuthal Angle (degree)</text>
<rect x="307.3" y="8.9" width="76.5" height="57.8" fill="#fff" stroke="#5a5a5a" stroke-width="0.8"/>
<line x1="309.3" y1="14.7" x2="326.3" y2="14.7" stroke="#111" stroke-width="1.4" stroke-dasharray="3.2 1.2 1 1.2"/>
<text x="327.8" y="17.2" font-size="6.94" fill="#222">CBF</text>
<line x1="309.3" y1="24.6" x2="326.3" y2="24.6" stroke="#111" stroke-width="1.4" stroke-dasharray="3 2.4"/>
<text x="327.8" y="27.1" font-size="6.94" fill="#222">CBF (normalized)</text>
<line x1="309.3" y1="34.0" x2="326.3" y2="34.0" stroke="#ff0000" stroke-width="1.4" />
<text x="327.8" y="36.5" font-size="6.94" fill="#222">M-DCV</text>
<line x1="309.3" y1="43.5" x2="326.3" y2="43.5" stroke="#0000ff" stroke-width="1.4" />
<text x="327.8" y="46.0" font-size="6.94" fill="#222">AM-DCV</text>
<line x1="309.3" y1="52.5" x2="326.3" y2="52.5" stroke="#00f000" stroke-width="1.4" />
<text x="327.8" y="55.0" font-size="6.94" fill="#222">DCV</text>
<line x1="309.3" y1="61.8" x2="326.3" y2="61.8" stroke="#ff00ff" stroke-width="1.4" />
<text x="327.8" y="64.3" font-size="6.94" fill="#222">RL</text>
<text x="530.6" y="21.3" font-size="8.85" font-weight="bold" fill="#222">(b)</text>
</g>
<g id="plotC">
<line x1="245.0" y1="160.3" x2="245.0" y2="287.6" stroke="#b2b2b2" stroke-width="0.8" stroke-dasharray="1.1 1.1"/>
<line x1="266.3" y1="160.3" x2="266.3" y2="287.6" stroke="#b2b2b2" stroke-width="0.8" stroke-dasharray="1.1 1.1"/>
<line x1="287.6" y1="160.3" x2="287.6" y2="287.6" stroke="#b2b2b2" stroke-width="0.8" stroke-dasharray="1.1 1.1"/>
<line x1="308.9" y1="160.3" x2="308.9" y2="287.6" stroke="#b2b2b2" stroke-width="0.8" stroke-dasharray="1.1 1.1"/>
<line x1="330.2" y1="160.3" x2="330.2" y2="287.6" stroke="#b2b2b2" stroke-width="0.8" stroke-dasharray="1.1 1.1"/>
<line x1="223.7" y1="181.5" x2="351.5" y2="181.5" stroke="#b2b2b2" stroke-width="0.8" stroke-dasharray="1.1 1.1"/>
<line x1="223.7" y1="202.7" x2="351.5" y2="202.7" stroke="#b2b2b2" stroke-width="0.8" stroke-dasharray="1.1 1.1"/>
<line x1="223.7" y1="224.0" x2="351.5" y2="224.0" stroke="#b2b2b2" stroke-width="0.8" stroke-dasharray="1.1 1.1"/>
<line x1="223.7" y1="245.2" x2="351.5" y2="245.2" stroke="#b2b2b2" stroke-width="0.8" stroke-dasharray="1.1 1.1"/>
<line x1="223.7" y1="266.4" x2="351.5" y2="266.4" stroke="#b2b2b2" stroke-width="0.8" stroke-dasharray="1.1 1.1"/>
<g clip-path="url(#clipC)">
<polyline points="223.7,266.4 264.8,266.4 267.2,202.7 307.0,202.7 308.7,215.5 310.2,266.4 351.5,266.4" fill="none" stroke="#1a1a1a" stroke-width="1.5" stroke-linejoin="round" />
<polyline points="220.5,233.8 222.2,234.1 223.7,234.1 225.0,233.8 226.0,233.3 227.0,232.8 228.0,232.4 229.0,232.3 229.9,232.2 230.9,232.3 231.8,232.4 232.7,232.8 233.6,233.2 234.5,233.7 235.4,234.1 236.2,234.5 237.1,235.0 237.8,235.3 238.6,235.4 239.4,235.3 240.1,235.1 240.8,234.7 241.6,234.1 242.4,233.2 243.3,232.0 244.2,230.8 245.0,229.9 245.7,229.3 246.3,228.8 246.9,228.5 247.6,228.2 248.2,227.8 248.8,227.5 249.5,227.2 250.1,227.1 250.8,227.3 251.4,227.6 252.1,227.9 252.7,228.0 253.2,227.7 253.6,227.3 254.0,226.7 254.4,226.1 254.7,225.5 255.0,224.9 255.3,224.2 255.6,223.1 256.2,221.6 256.8,219.7 257.5,217.7 258.2,215.5 258.8,213.1 259.5,210.5 260.1,207.8 260.8,205.3 261.4,202.9 262.1,200.5 262.7,198.3 263.3,196.4 263.8,194.9 264.2,193.8 264.7,192.8 265.1,191.7 265.7,190.6 266.4,189.4 267.0,188.3 267.7,187.3 268.3,186.3 268.9,185.3 269.6,184.3 270.3,183.5 271.0,182.7 271.8,182.1 272.7,181.5 273.5,180.9 274.4,180.4 275.3,179.9 276.3,179.4 277.4,179.0 278.6,178.6 279.9,178.3 281.2,178.0 282.5,177.7 283.6,177.5 284.7,177.3 285.9,177.2 287.6,177.1 290.1,177.0 293.3,177.0 296.3,177.0 298.7,177.1 300.1,177.3 300.8,177.5 301.3,177.9 301.9,178.4 302.6,179.0 303.2,179.7 303.8,180.6 304.4,181.5 305.1,182.6 305.7,183.9 306.4,185.1 307.0,186.3 307.5,187.3 307.9,188.2 308.4,189.2 308.9,190.4 309.5,192.0 310.2,193.8 310.8,195.7 311.5,197.6 312.0,199.5 312.4,201.4 312.9,203.4 313.3,205.3 313.8,207.2 314.3,209.2 314.8,211.1 315.3,212.9 315.8,214.7 316.2,216.4 316.7,217.9 317.2,219.3 317.6,220.3 318.1,221.2 318.6,221.9 319.1,222.5 319.7,223.0 320.4,223.5 321.0,223.9 321.7,224.1 322.3,224.2 323.0,224.1 323.6,223.9 324.2,224.0 324.9,224.1 325.5,224.3 326.1,224.6 326.8,225.0 327.5,225.5 328.2,226.1 329.0,226.8 329.8,227.6 330.7,228.5 331.6,229.5 332.6,230.6 333.6,231.6 334.6,232.5 335.5,233.3 336.5,234.0 337.4,234.8 338.4,235.5 339.4,236.2 340.4,236.8 341.3,237.3 342.1,237.8 342.9,238.1 343.7,238.4 344.5,238.6 345.3,238.7 346.0,238.8 346.8,238.8 347.7,238.6 348.6,238.3 349.5,237.8 350.5,237.2 351.5,236.7 352.4,236.0 353.4,235.1 354.4,234.4 355.8,234.1" fill="none" stroke="#111" stroke-width="1.15" stroke-linejoin="round" stroke-dasharray="3.2 1.2 1 1.2"/>
<polyline points="220.5,259.4 222.2,259.7 223.7,259.8 225.0,259.5 226.0,259.0 227.0,258.4 228.0,258.1 229.0,257.9 229.9,257.9 230.9,257.9 231.8,258.1 232.7,258.4 233.6,258.8 234.5,259.3 235.4,259.8 236.2,260.2 237.1,260.6 237.8,260.9 238.6,261.0 239.4,261.0 240.1,260.7 240.8,260.4 241.6,259.8 242.4,258.9 243.3,257.7 244.2,256.5 245.0,255.5 245.7,254.9 246.3,254.5 246.9,254.1 247.6,253.8 248.2,253.5 248.8,253.1 249.5,252.9 250.1,252.8 250.8,252.9 251.4,253.2 252.1,253.5 252.7,253.6 253.2,253.4 253.6,252.9 254.0,252.3 254.4,251.7 254.7,251.1 255.0,250.6 255.3,249.8 255.6,248.7 256.2,247.2 256.8,245.4 257.5,243.3 258.2,241.1 258.8,238.7 259.5,236.1 260.1,233.4 260.8,230.9 261.4,228.5 262.1,226.1 262.7,223.9 263.3,222.0 263.8,220.5 264.2,219.4 264.7,218.4 265.1,217.3 265.7,216.2 266.4,215.1 267.0,214.0 267.7,212.9 268.3,211.9 268.9,210.9 269.6,209.9 270.3,209.1 271.0,208.4 271.8,207.7 272.7,207.1 273.5,206.6 274.4,206.0 275.3,205.5 276.3,205.1 277.4,204.6 278.6,204.3 279.9,203.9 281.2,203.6 282.5,203.3 283.6,203.1 284.7,202.9 285.9,202.8 287.6,202.7 290.1,202.7 293.3,202.6 296.3,202.6 298.7,202.7 300.1,202.9 300.8,203.2 301.3,203.5 301.9,204.0 302.6,204.6 303.2,205.4 303.8,206.2 304.4,207.1 305.1,208.2 305.7,209.5 306.4,210.8 307.0,211.9 307.5,212.9 307.9,213.8 308.4,214.8 308.9,216.1 309.5,217.6 310.2,219.4 310.8,221.4 311.5,223.3 312.0,225.2 312.4,227.1 312.9,229.0 313.3,230.9 313.8,232.8 314.3,234.8 314.8,236.7 315.3,238.5 315.8,240.3 316.2,242.0 316.7,243.6 317.2,244.9 317.6,246.0 318.1,246.8 318.6,247.5 319.1,248.1 319.7,248.7 320.4,249.1 321.0,249.5 321.7,249.7 322.3,249.8 323.0,249.7 323.6,249.6 324.2,249.6 324.9,249.7 325.5,249.9 326.1,250.2 326.8,250.6 327.5,251.1 328.2,251.7 329.0,252.4 329.8,253.2 330.7,254.1 331.6,255.2 332.6,256.2 333.6,257.2 334.6,258.1 335.5,258.9 336.5,259.7 337.4,260.4 338.4,261.1 339.4,261.8 340.4,262.4 341.3,262.9 342.1,263.4 342.9,263.7 343.7,264.0 344.5,264.2 345.3,264.4 346.0,264.4 346.8,264.4 347.7,264.2 348.6,263.9 349.5,263.4 350.5,262.9 351.5,262.3 352.4,261.6 353.4,260.7 354.4,260.0 355.8,259.8" fill="none" stroke="#111" stroke-width="1.15" stroke-linejoin="round" stroke-dasharray="3.2 2.6"/>
<polyline points="223.7,267.8 226.5,277.3 229.0,266.5 230.5,260.8 232.8,269.1 234.1,272.9 236.0,267.8 237.9,264.6 239.8,275.4 241.7,281.2 243.6,274.2 245.5,271.0 248.7,267.8 251.2,266.5 253.7,271.0 256.3,273.5 258.8,270.3 261.4,262.7 263.3,256.3 264.6,236.7 266.7,207.0 268.6,195.7 270.7,201.3 273.2,205.9 276.3,207.4 278.8,208.4 280.9,205.4 282.9,200.3 285.5,198.8 287.5,199.3 289.5,200.8 291.6,203.3 293.6,202.8 295.7,199.8 297.7,196.7 299.2,195.2 300.7,197.7 302.8,202.3 304.8,205.9 306.4,206.9 309.3,219.7 311.0,245.2 314.6,274.8 317.8,272.2 321.6,271.0 324.2,262.7 326.7,257.6 329.9,257.0 333.1,262.7 336.9,272.9 341.3,279.9 345.8,276.1 349.6,269.1 351.5,264.0" fill="none" stroke="#0000ff" stroke-width="1.25" stroke-linejoin="round" />
<polyline points="223.7,262.7 226.5,263.3 229.7,261.4 232.8,265.2 236.0,271.6 237.9,281.2 239.8,272.9 241.7,264.0 243.6,270.3 245.5,273.5 248.7,271.6 251.2,271.9 253.1,273.5 255.0,283.1 256.3,290.7 258.2,290.7 259.5,275.4 260.7,266.5 262.0,256.3 264.2,236.7 266.5,207.0 269.7,204.4 272.2,211.0 274.2,201.3 275.8,194.2 277.3,201.3 278.8,205.4 280.4,201.3 281.9,207.9 284.4,201.3 287.5,192.7 289.5,200.3 291.6,206.4 293.6,207.4 295.7,206.4 298.7,203.3 300.7,199.3 302.8,194.7 304.3,201.3 305.8,211.5 307.4,213.0 309.8,219.7 312.7,245.2 317.8,275.4 319.7,290.7 323.5,290.7 324.8,262.7 326.1,255.0 329.9,255.7 333.1,261.4 336.9,274.2 341.3,281.8 345.8,278.0 349.6,267.8 351.5,266.5" fill="none" stroke="#00f000" stroke-width="1.25" stroke-linejoin="round" />
<polyline points="223.7,263.3 226.5,264.0 230.3,257.0 232.8,262.7 235.4,271.6 237.3,279.9 239.2,282.4 241.7,284.4 243.6,275.4 245.5,266.5 247.4,262.7 249.3,258.2 251.2,271.6 252.5,280.5 253.7,290.7 258.2,290.7 260.1,281.8 261.0,281.2 262.0,269.1 263.3,256.3 263.7,245.2 266.1,207.0 269.2,202.8 271.2,200.3 273.2,202.8 275.3,204.9 277.3,204.4 279.3,204.9 281.4,202.3 283.4,199.3 285.0,198.5 286.5,199.8 288.5,201.3 290.6,203.9 292.6,204.9 294.6,205.9 296.7,203.3 298.7,200.3 300.7,198.8 302.8,198.3 304.3,200.3 305.8,204.4 307.4,207.9 308.4,212.5 309.5,219.7 311.5,245.2 314.6,275.4 317.2,290.7 319.7,290.7 321.6,275.4 324.2,262.7 326.7,257.0 329.9,255.3 333.1,261.4 336.9,273.5 341.3,280.5 345.8,277.3 349.6,269.1 351.5,265.9" fill="none" stroke="#ff00ff" stroke-width="1.25" stroke-linejoin="round" />
<polyline points="223.7,265.9 226.5,258.2 230.3,269.1 232.8,262.7 236.0,266.5 239.2,269.1 241.7,272.2 243.6,262.7 246.1,255.0 248.7,262.7 250.6,266.5 252.9,261.4 255.0,269.1 256.9,275.4 258.8,269.1 260.7,261.4 262.6,258.9 263.9,262.7 265.2,257.6 265.7,236.7 266.9,204.0 270.2,203.9 272.2,205.4 274.2,203.3 276.3,204.9 278.3,201.3 280.4,199.3 281.9,199.8 283.9,201.3 286.0,200.3 288.0,200.8 290.0,202.3 292.1,203.9 294.1,207.9 295.1,210.0 296.7,205.4 298.7,202.3 300.7,202.8 302.8,203.9 304.8,202.3 306.4,200.3 307.4,206.4 308.4,212.5 309.3,224.0 310.2,266.4 313.4,265.2 317.8,261.4 321.6,266.5 325.4,266.5 329.2,269.1 331.8,265.2 334.3,264.0 336.9,269.1 341.3,256.3 344.5,266.5 348.3,278.6 351.5,272.9" fill="none" stroke="#ff0000" stroke-width="1.25" stroke-linejoin="round" />
<polyline points="263.4,266.4 265.6,216.9 309.6,216.9 310.7,266.4" fill="none" stroke="#ff00ff" stroke-width="1.3" stroke-linejoin="round" />
<polyline points="264.1,266.4 266.3,215.5 309.4,215.5 310.4,266.4" fill="none" stroke="#00f000" stroke-width="1.3" stroke-linejoin="round" />
<polyline points="264.8,266.4 266.9,214.0 309.1,214.0 310.2,266.4" fill="none" stroke="#ff0000" stroke-width="1.3" stroke-linejoin="round" />
</g>
<rect x="223.7" y="160.3" width="127.8" height="127.3" fill="none" stroke="#7c7c7c" stroke-width="1"/>
<text transform="translate(224.1 299.2) scale(0.95 1)" text-anchor="middle" font-size="8.4" fill="#2a2a2a">−<tspan dx="1.4">15</tspan></text>
<path d="M245.0 287.6v-3M245.0 160.3v3" stroke="#7c7c7c" stroke-width="0.8"/>
<text transform="translate(245.4 299.2) scale(0.95 1)" text-anchor="middle" font-size="8.4" fill="#2a2a2a">−<tspan dx="1.4">10</tspan></text>
<path d="M266.3 287.6v-3M266.3 160.3v3" stroke="#7c7c7c" stroke-width="0.8"/>
<text transform="translate(266.7 299.2) scale(0.95 1)" text-anchor="middle" font-size="8.4" fill="#2a2a2a">−<tspan dx="1.4">5</tspan></text>
<path d="M287.6 287.6v-3M287.6 160.3v3" stroke="#7c7c7c" stroke-width="0.8"/>
<text transform="translate(288.0 299.2) scale(0.95 1)" text-anchor="middle" font-size="8.4" fill="#2a2a2a">0</text>
<path d="M308.9 287.6v-3M308.9 160.3v3" stroke="#7c7c7c" stroke-width="0.8"/>
<text transform="translate(309.3 299.2) scale(0.95 1)" text-anchor="middle" font-size="8.4" fill="#2a2a2a">5</text>
<path d="M330.2 287.6v-3M330.2 160.3v3" stroke="#7c7c7c" stroke-width="0.8"/>
<text transform="translate(330.6 299.2) scale(0.95 1)" text-anchor="middle" font-size="8.4" fill="#2a2a2a">10</text>
<text transform="translate(351.9 299.2) scale(0.95 1)" text-anchor="middle" font-size="8.4" fill="#2a2a2a">15</text>
<text transform="translate(220.6 163.0) scale(0.95 1)" text-anchor="end" font-size="8.4" fill="#2a2a2a">10</text>
<path d="M223.7 181.5h3M351.5 181.5h-3" stroke="#7c7c7c" stroke-width="0.8"/>
<text transform="translate(220.6 184.2) scale(0.95 1)" text-anchor="end" font-size="8.4" fill="#2a2a2a">5</text>
<path d="M223.7 202.7h3M351.5 202.7h-3" stroke="#7c7c7c" stroke-width="0.8"/>
<text transform="translate(220.6 205.4) scale(0.95 1)" text-anchor="end" font-size="8.4" fill="#2a2a2a">0</text>
<path d="M223.7 224.0h3M351.5 224.0h-3" stroke="#7c7c7c" stroke-width="0.8"/>
<text transform="translate(220.6 226.6) scale(0.95 1)" text-anchor="end" font-size="8.4" fill="#2a2a2a">−<tspan dx="1.4">5</tspan></text>
<path d="M223.7 245.2h3M351.5 245.2h-3" stroke="#7c7c7c" stroke-width="0.8"/>
<text transform="translate(220.6 247.8) scale(0.95 1)" text-anchor="end" font-size="8.4" fill="#2a2a2a">−<tspan dx="1.4">10</tspan></text>
<path d="M223.7 266.4h3M351.5 266.4h-3" stroke="#7c7c7c" stroke-width="0.8"/>
<text transform="translate(220.6 269.0) scale(0.95 1)" text-anchor="end" font-size="8.4" fill="#2a2a2a">−<tspan dx="1.4">15</tspan></text>
<text transform="translate(220.6 290.2) scale(0.95 1)" text-anchor="end" font-size="8.4" fill="#2a2a2a">−<tspan dx="1.4">20</tspan></text>
<text x="287.6" y="309.6" text-anchor="middle" font-size="8.8" textLength="99.2" lengthAdjust="spacingAndGlyphs" fill="#2a2a2a">Azimuthal Angle (degree)</text>
<text transform="translate(200.9 224.0) rotate(-90)" text-anchor="middle" font-size="8.9" textLength="75" lengthAdjust="spacingAndGlyphs" fill="#2a2a2a">Pressure Level(dB)</text>
<text x="338.8" y="176.8" font-size="8.85" font-weight="bold" fill="#222">(c)</text>
</g>
</svg>
</body></html>
